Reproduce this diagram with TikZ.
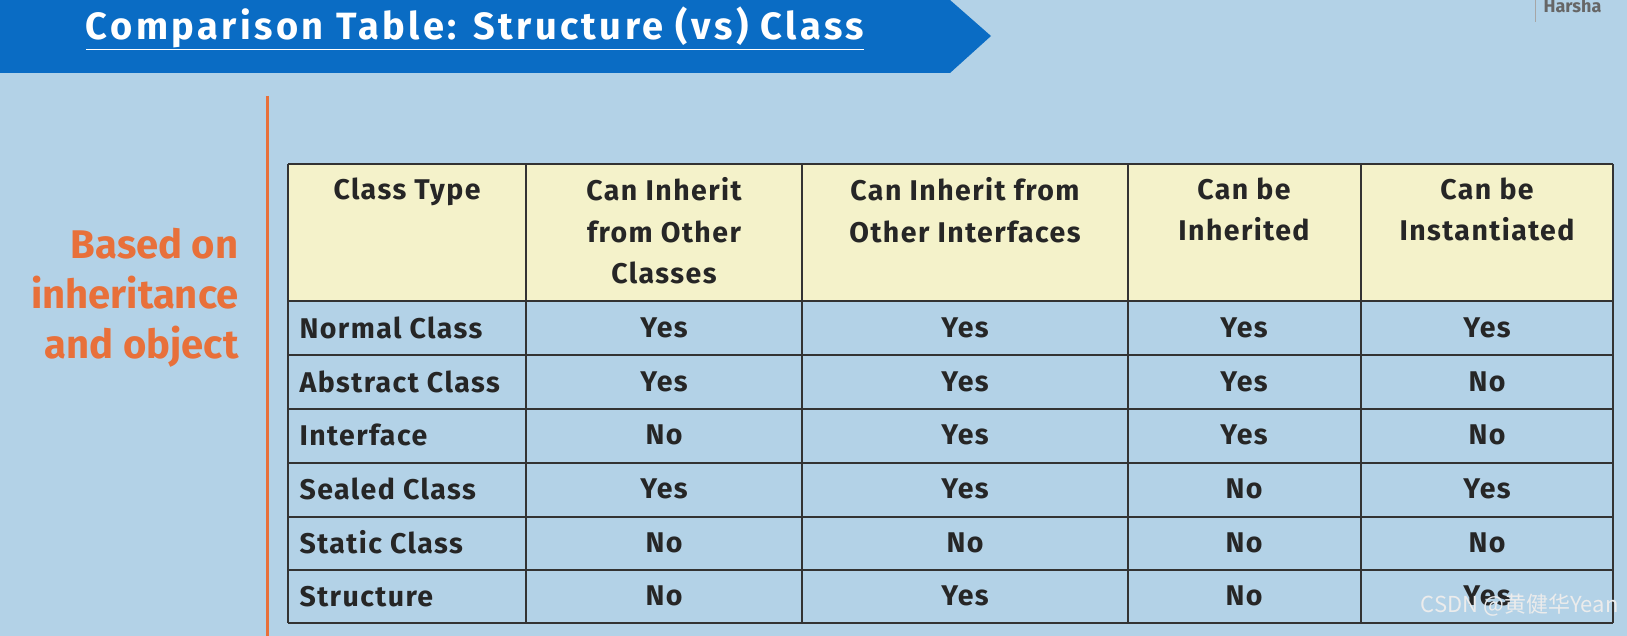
\documentclass[tikz,border=0pt]{standalone}
\usepackage{fontspec}
\setmainfont{Fira Sans}
\newfontfamily\wide[LetterSpace=5]{Fira Sans}
\newfontfamily\wider[LetterSpace=9]{Fira Sans}
\newfontfamily\cjk{Noto Sans CJK SC}
\definecolor{bg}{HTML}{B3D2E7}
\definecolor{ban}{HTML}{0A6CC4}
\definecolor{hd}{HTML}{F4F2CA}
\definecolor{org}{HTML}{E8703A}
\begin{document}
\begin{tikzpicture}[x=1pt,y=-1pt,
  cell/.style={font=\wide\fontsize{28.5}{41.5}\selectfont\bfseries,text=black!85},
  hcell/.style={cell,align=center,anchor=north}]
\fill[bg] (0,0) rectangle (1627,636);
\useasboundingbox (0,0) rectangle (1627,636);
\fill[ban] (0,0) -- (950,0) -- (991,36) -- (950,73) -- (0,73) -- cycle;
\node[text=white,font=\wider\fontsize{38}{42}\selectfont\bfseries] (title) at (475,28) {\underline{Comparison Table: Structure (vs) Class}};
\draw[gray!70,line width=1pt] (1535,0) -- (1535,22);
\node[anchor=west,text=gray!80!black,font=\fontsize{18}{20}\selectfont\bfseries] (harsha) at (1540,6) {Harsha};
\draw[org,line width=3pt] (267,96) -- (267,636);
\node[anchor=east,align=right,text=org,font=\fontsize{40}{50}\selectfont\bfseries] (side) at (242,298) {Based on\\inheritance\\and object};
\fill[hd] (288,164) rectangle (1613,301);
\foreach \x in {288,526,802,1128,1361,1613} \draw[black!80,line width=1.2pt] (\x,164) -- (\x,623);
\foreach \y in {164,301,355,409,463,517,570,623} \draw[black!80,line width=1.2pt] (288,\y) -- (1613,\y);
\node[hcell] (h1) at (407,174) {Class Type};
\node[hcell] (h2) at (664,174) {Can Inherit\\from Other\\Classes};
\node[hcell] (h3) at (965,174) {Can Inherit from\\Other Interfaces};
\node[hcell] (h4) at (1244,174) {Can be\\Inherited};
\node[hcell] (h5) at (1487,174) {Can be\\Instantiated};
\foreach \n/\a/\b/\c/\d [count=\i] in {Normal Class/Yes/Yes/Yes/Yes,Abstract Class/Yes/Yes/Yes/No,Interface/No/Yes/Yes/No,Sealed Class/Yes/Yes/No/Yes,Static Class/No/No/No/No,Structure/No/Yes/No/Yes}{
  \pgfmathsetmacro{\yy}{301+53.7*(\i-0.5)}
  \node[cell,anchor=west] (r\i) at (296,\yy) {\n};
  \node[cell] (a\i) at (664,\yy) {\a};
  \node[cell] (b\i) at (965,\yy) {\b};
  \node[cell] (c\i) at (1244,\yy) {\c};
  \node[cell] (d\i) at (1487,\yy) {\d};
}
\node[anchor=east,text=white!85!gray,font=\cjk\fontsize{22}{24}\selectfont] (wm) at (1622,605) {CSDN @黄健华Yean};
\end{tikzpicture}
\end{document}
